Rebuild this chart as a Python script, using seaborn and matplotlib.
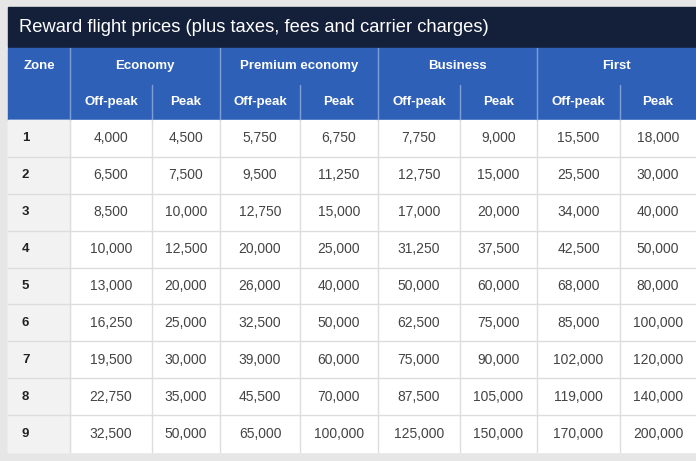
import matplotlib
matplotlib.use("Agg")
import matplotlib.pyplot as plt
from matplotlib.patches import Rectangle
import seaborn as sns

sns.set_theme(style="white", font="Liberation Sans")

title = "Reward flight prices (plus taxes, fees and carrier charges)"
groups = ["Economy", "Premium economy", "Business", "First"]
subheads = ["Off-peak", "Peak"]
zones = ["1", "2", "3", "4", "5", "6", "7", "8", "9"]
economy_off = ["4,000", "6,500", "8,500", "10,000", "13,000", "16,250", "19,500", "22,750", "32,500"]
economy_peak = ["4,500", "7,500", "10,000", "12,500", "20,000", "25,000", "30,000", "35,000", "50,000"]
premium_off = ["5,750", "9,500", "12,750", "20,000", "26,000", "32,500", "39,000", "45,500", "65,000"]
premium_peak = ["6,750", "11,250", "15,000", "25,000", "40,000", "50,000", "60,000", "70,000", "100,000"]
business_off = ["7,750", "12,750", "17,000", "31,250", "50,000", "62,500", "75,000", "87,500", "125,000"]
business_peak = ["9,000", "15,000", "20,000", "37,500", "60,000", "75,000", "90,000", "105,000", "150,000"]
first_off = ["15,500", "25,500", "34,000", "42,500", "68,000", "85,000", "102,000", "119,000", "170,000"]
first_peak = ["18,000", "30,000", "40,000", "50,000", "80,000", "100,000", "120,000", "140,000", "200,000"]
columns = [economy_off, economy_peak, premium_off, premium_peak,
           business_off, business_peak, first_off, first_peak]

W, H = 696, 461
fig = plt.figure(figsize=(W / 100, H / 100), dpi=100)
ax = fig.add_axes([0, 0, 1, 1])
ax.set_xlim(0, W)
ax.set_ylim(H, 0)
ax.axis("off")

ax.add_patch(Rectangle((0, 0), W, H, color="#e6e6e6"))
x0, x1 = 8, W
edges = [x0, 70, 152, 220, 300, 378, 460, 537, 620, x1]
# title bar
ax.add_patch(Rectangle((x0, 7), x1 - x0, 40, color="#14203a"))
ax.text(19, 27, title, color="white", fontsize=13.2, va="center", ha="left")
# header
hy0, hmid, hy1 = 48, 85, 120
blue = "#2f60b8"
ax.add_patch(Rectangle((x0, hy0), x1 - x0, hy1 - hy0, color=blue))
line = "#7f9fd8"
for i in [1, 3, 5, 7]:
    ax.plot([edges[i], edges[i]], [hy0, hy1], color=line, lw=1)
for i in [2, 4, 6, 8]:
    ax.plot([edges[i], edges[i]], [hmid, hy1], color=line, lw=1)
ax.text((edges[0] + edges[1]) / 2, 66, "Zone", color="white", fontsize=9.5,
        fontweight="bold", ha="center", va="center")
for g, name in enumerate(groups):
    a, b = edges[1 + 2 * g], edges[3 + 2 * g]
    ax.text((a + b) / 2, 66, name, color="white", fontsize=9.5, fontweight="bold",
            ha="center", va="center")
    for s in range(2):
        c0, c1 = edges[1 + 2 * g + s], edges[2 + 2 * g + s]
        ax.text((c0 + c1) / 2, 102, subheads[s], color="white", fontsize=9.5,
                fontweight="bold", ha="center", va="center")
# body
ry = 120
rh = (452 - ry) / len(zones)
ax.add_patch(Rectangle((x0, ry), x1 - x0, 452 - ry, color="white"))
ax.add_patch(Rectangle((x0, ry), edges[1] - x0, 452 - ry, color="#f2f2f2"))
grid = "#dddddd"
for r, z in enumerate(zones):
    yc = ry + rh * (r + 0.5)
    if r > 0:
        ax.plot([x0, x1], [ry + rh * r, ry + rh * r], color=grid, lw=1)
    ax.text(22, yc, z, color="#222222", fontsize=9.5, fontweight="bold", va="center")
    for c, col in enumerate(columns):
        ax.text((edges[c + 1] + edges[c + 2]) / 2, yc, col[r], color="#444444",
                fontsize=10, ha="center", va="center")
for e in edges[1:-1]:
    ax.plot([e, e], [ry, 452], color=grid, lw=1)

fig.savefig("out.png", dpi=100)
